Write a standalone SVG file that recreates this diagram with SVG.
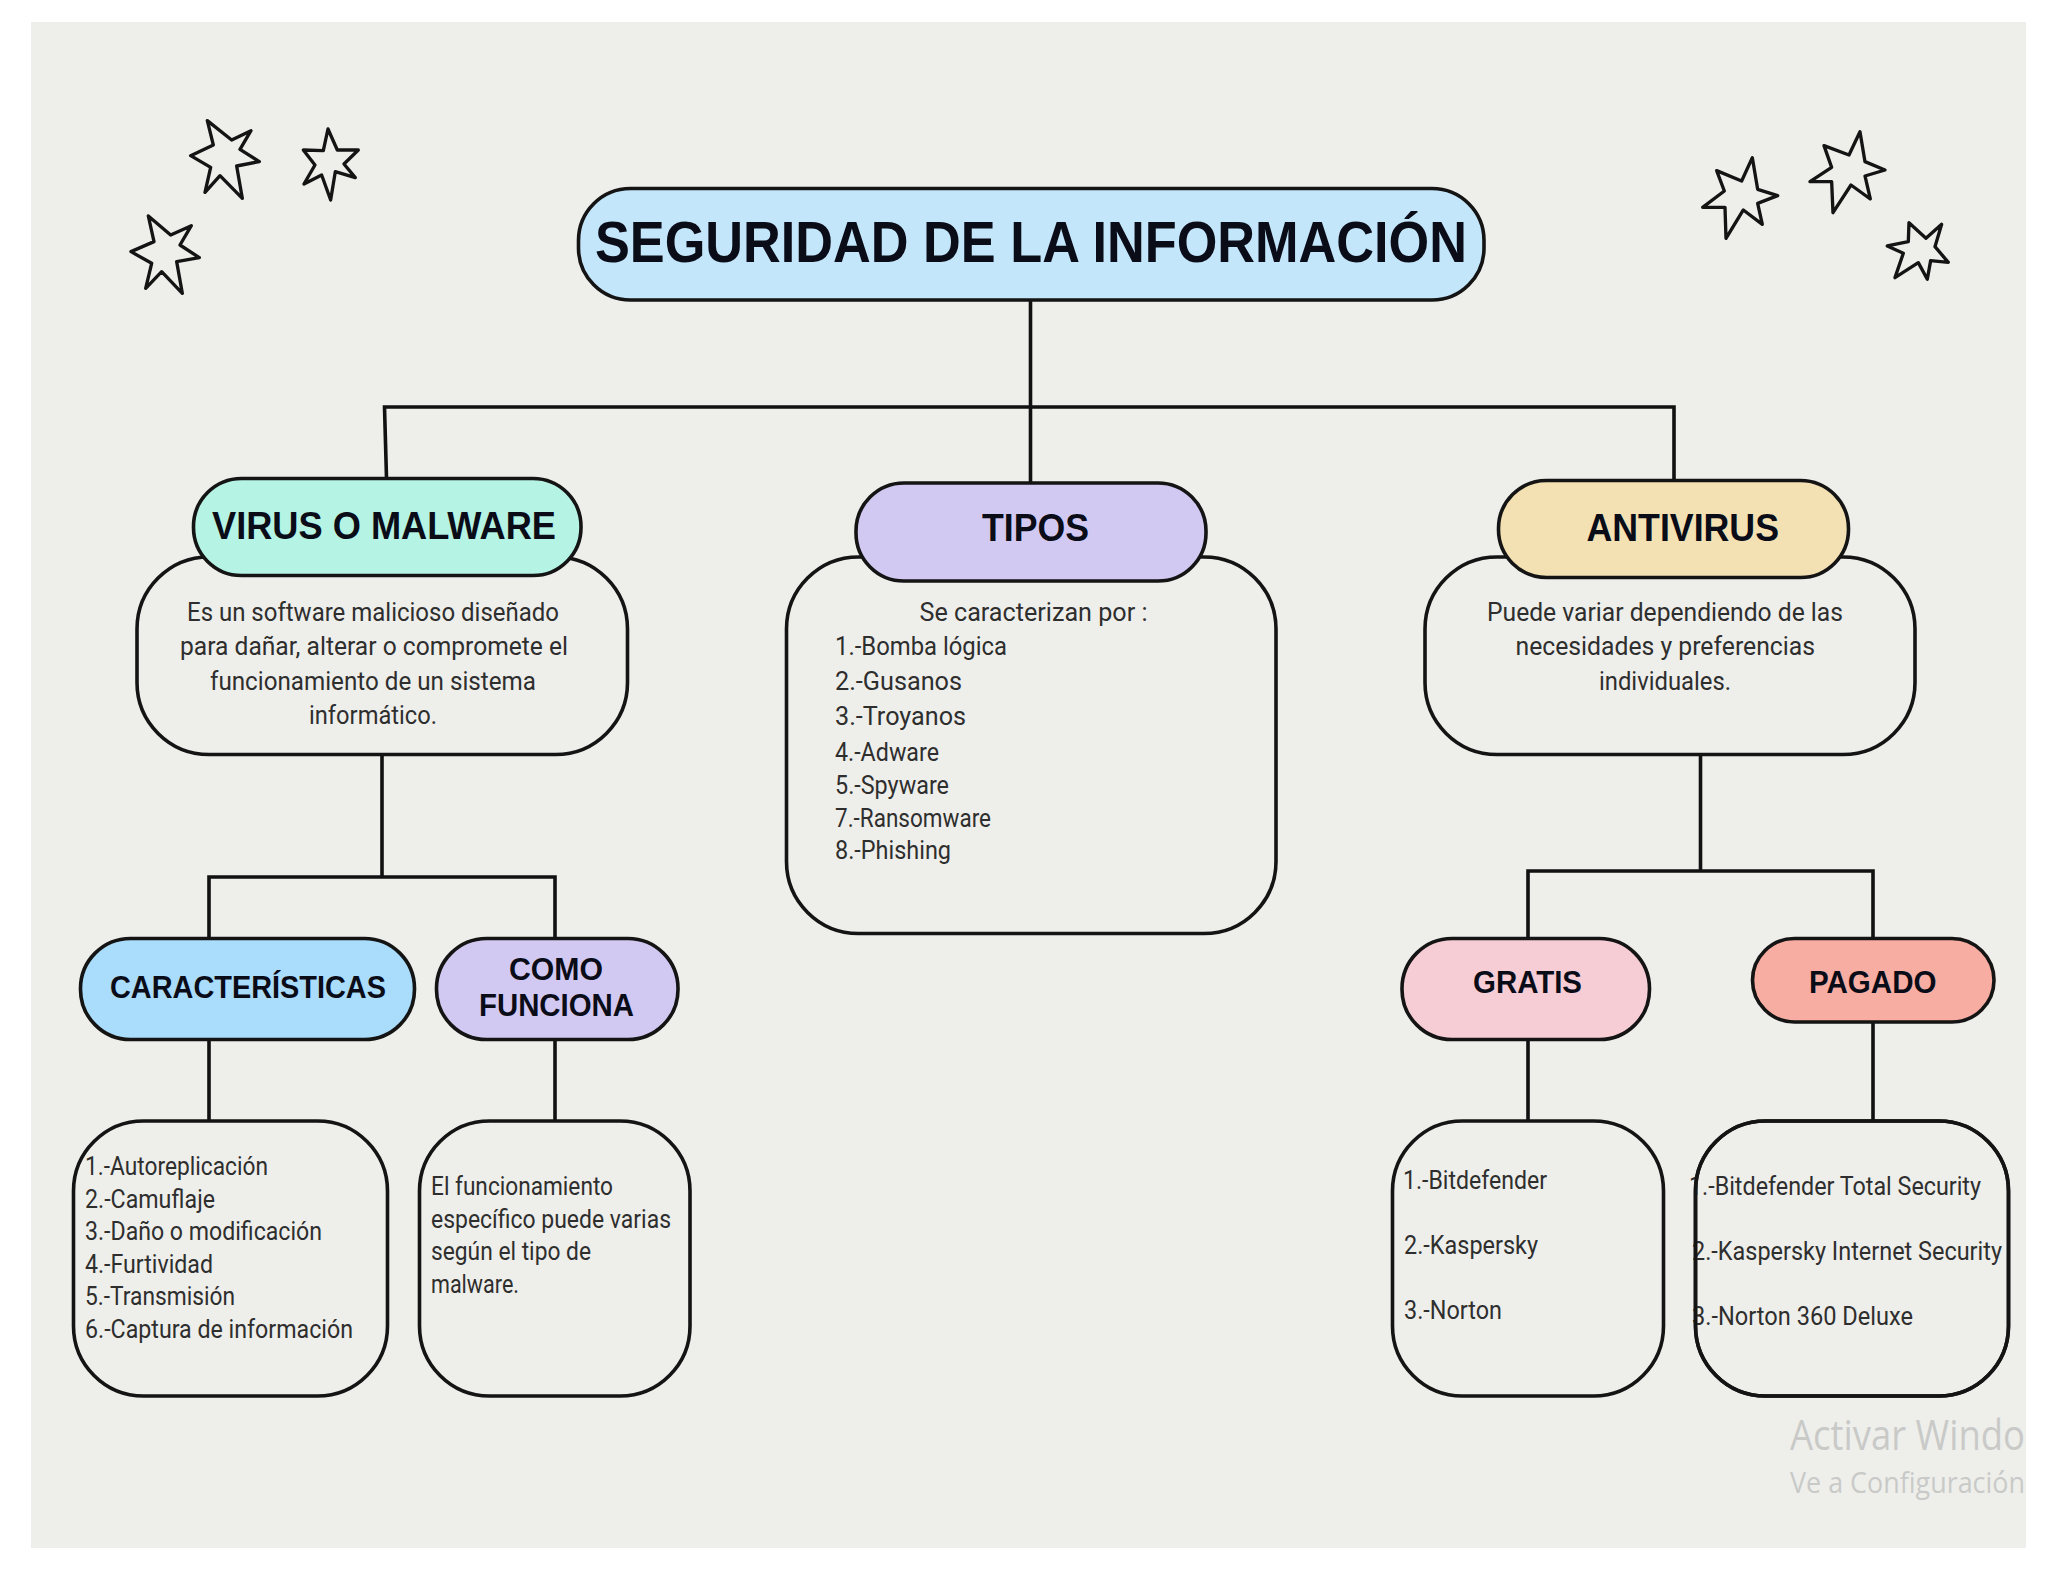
<svg xmlns="http://www.w3.org/2000/svg" width="2048" height="1582" viewBox="0 0 2048 1582">
<style>
.wire{fill:none;stroke:#111;stroke-width:3.6}
.head rect{stroke:#141414;stroke-width:3.6}
.box rect{fill:#eeefeb;stroke:#141414;stroke-width:3.6}
.h{font-family:"Liberation Sans",Arial,sans-serif;font-weight:700;fill:#0a0c18}
.b{font-family:Roboto,"Liberation Sans",sans-serif;font-size:26px;fill:#2e2e2e}
.star{fill:none;stroke:#141414;stroke-width:10;stroke-linejoin:round}
.wm{font-family:"Open Sans",sans-serif;fill:#c9cac8}
</style>
<rect width="2048" height="1582" fill="#ffffff"/>
<rect id="background" x="31" y="22" width="1995" height="1526" fill="#eeefeb"/>
<g id="stars">
<polygon class="star" transform="translate(100 90) scale(.3333)" points="322,92 395,150 453,122 420,178 478,215 410,228 427,325 360,257 315,307 332,232 272,197 340,165"/>
<polygon class="star" transform="translate(100 90) scale(.3333)" points="684,117 712,180 775,180 732,222 766,263 706,245 692,330 665,255 612,282 645,225 610,180 670,182"/>
<polygon class="star" transform="translate(100 90) scale(.3333)" points="145,378 212,435 274,407 240,465 298,503 230,515 247,610 185,545 137,595 155,520 93,485 162,455"/>
<polygon class="star" transform="translate(1690 110) scale(.3333)" points="187,143 203,238 263,257 203,280 217,343 160,300 108,385 105,292 38,292 103,243 80,182 155,213"/>
<polygon class="star" transform="translate(1690 110) scale(.3333)" points="510,65 525,155 585,180 525,198 541,267 483,225 429,308 425,215 360,215 425,172 402,107 477,135"/>
<polygon class="star" transform="translate(1690 110) scale(.3333)" points="755,343 735,410 775,457 722,452 712,508 685,458 615,503 640,430 592,408 655,395 657,338 708,385"/>
</g>
<g id="connectors">
<path class="wire" d="M1030.5 300V483"/>
<path class="wire" d="M386.5 478L384.500 407H1674V480"/>
<path class="wire" d="M382 754V877"/>
<path class="wire" d="M209 938V877H555V938"/>
<path class="wire" d="M209 1040V1121"/>
<path class="wire" d="M555 1040V1121"/>
<path class="wire" d="M1700.500 754V871"/>
<path class="wire" d="M1528 938V871H1873V938"/>
<path class="wire" d="M1528 1040V1121"/>
<path class="wire" d="M1873 1022V1121"/>
</g>
<g id="desc-virus" class="box">
<rect x="137" y="557" width="490.500" height="197.500" rx="72"/>
<text class="b" x="187" y="621" textLength="372" lengthAdjust="spacingAndGlyphs">Es un software malicioso diseñado</text>
<text class="b" x="180" y="655" textLength="388" lengthAdjust="spacingAndGlyphs">para dañar, alterar o compromete el</text>
<text class="b" x="210" y="690" textLength="326" lengthAdjust="spacingAndGlyphs">funcionamiento de un sistema</text>
<text class="b" x="309" y="724" textLength="128" lengthAdjust="spacingAndGlyphs">informático.</text>
</g>
<g id="desc-tipos" class="box">
<rect x="786.500" y="557" width="489.500" height="376.500" rx="72"/>
<text class="b" x="919.500" y="621" textLength="228" lengthAdjust="spacingAndGlyphs">Se caracterizan por :</text>
<text class="b" x="835" y="655" textLength="172" lengthAdjust="spacingAndGlyphs">1.-Bomba lógica</text>
<text class="b" x="835" y="690" textLength="127" lengthAdjust="spacingAndGlyphs">2.-Gusanos</text>
<text class="b" x="835" y="724.500" textLength="131" lengthAdjust="spacingAndGlyphs">3.-Troyanos</text>
<text class="b" x="835" y="761" textLength="104" lengthAdjust="spacingAndGlyphs">4.-Adware</text>
<text class="b" x="835" y="794" textLength="114" lengthAdjust="spacingAndGlyphs">5.-Spyware</text>
<text class="b" x="835" y="826.500" textLength="156" lengthAdjust="spacingAndGlyphs">7.-Ransomware</text>
<text class="b" x="835" y="859" textLength="116" lengthAdjust="spacingAndGlyphs">8.-Phishing</text>
</g>
<g id="desc-antivirus" class="box">
<rect x="1425" y="557" width="490" height="197.500" rx="72"/>
<text class="b" x="1487" y="621" textLength="356" lengthAdjust="spacingAndGlyphs">Puede variar dependiendo de las</text>
<text class="b" x="1515.500" y="655" textLength="299.500" lengthAdjust="spacingAndGlyphs">necesidades y preferencias</text>
<text class="b" x="1599" y="690" textLength="132" lengthAdjust="spacingAndGlyphs">individuales.</text>
</g>
<g id="node-title" class="head">
<rect x="578.500" y="188.500" width="905.500" height="111.500" rx="52" fill="#c3e6fb"/>
<text class="h" x="595" y="262" font-size="58" textLength="872" lengthAdjust="spacingAndGlyphs">SEGURIDAD DE LA INFORMACIÓN</text>
</g>
<g id="node-virus" class="head">
<rect x="193.500" y="478.500" width="387.500" height="97" rx="48" fill="#b5f4e4"/>
<text class="h" x="212" y="539" font-size="38" textLength="344" lengthAdjust="spacingAndGlyphs">VIRUS O MALWARE</text>
</g>
<g id="node-tipos" class="head">
<rect x="856" y="483" width="350" height="98" rx="48" fill="#d2c9f3"/>
<text class="h" x="982" y="541" font-size="38" textLength="107" lengthAdjust="spacingAndGlyphs">TIPOS</text>
</g>
<g id="node-antivirus" class="head">
<rect x="1498.500" y="480.500" width="350" height="97" rx="48" fill="#f3e1b3"/>
<text class="h" x="1586.500" y="541" font-size="38" textLength="192.500" lengthAdjust="spacingAndGlyphs">ANTIVIRUS</text>
</g>
<g id="node-caracteristicas" class="head">
<rect x="80.500" y="938.500" width="334" height="101" rx="50" fill="#aadcfb"/>
<text class="h" x="110" y="997.500" font-size="31" textLength="276" lengthAdjust="spacingAndGlyphs">CARACTERÍSTICAS</text>
</g>
<g id="node-como" class="head">
<rect x="436.500" y="938.500" width="241.500" height="101" rx="50" fill="#d2c9f3"/>
<text class="h" x="509" y="979.500" font-size="32" textLength="94" lengthAdjust="spacingAndGlyphs">COMO</text>
<text class="h" x="479" y="1016" font-size="32" textLength="155" lengthAdjust="spacingAndGlyphs">FUNCIONA</text>
</g>
<g id="node-gratis" class="head">
<rect x="1402" y="938.500" width="247.500" height="101" rx="50" fill="#f6cdd5"/>
<text class="h" x="1473" y="992.500" font-size="31" textLength="109" lengthAdjust="spacingAndGlyphs">GRATIS</text>
</g>
<g id="node-pagado" class="head">
<rect x="1752.500" y="938.500" width="241.500" height="83.500" rx="42" fill="#f8ada3"/>
<text class="h" x="1809" y="992.500" font-size="31" textLength="127.500" lengthAdjust="spacingAndGlyphs">PAGADO</text>
</g>
<g id="desc-caracteristicas" class="box">
<rect x="73.500" y="1121" width="314" height="275" rx="70"/>
<text class="b" x="85" y="1175" textLength="183" lengthAdjust="spacingAndGlyphs">1.-Autoreplicación</text>
<text class="b" x="85" y="1207.500" textLength="130" lengthAdjust="spacingAndGlyphs">2.-Camuflaje</text>
<text class="b" x="85" y="1240" textLength="237" lengthAdjust="spacingAndGlyphs">3.-Daño o modificación</text>
<text class="b" x="85" y="1272.500" textLength="128" lengthAdjust="spacingAndGlyphs">4.-Furtividad</text>
<text class="b" x="85" y="1305" textLength="150" lengthAdjust="spacingAndGlyphs">5.-Transmisión</text>
<text class="b" x="85" y="1338" textLength="268" lengthAdjust="spacingAndGlyphs">6.-Captura de información</text>
</g>
<g id="desc-como" class="box">
<rect x="419.500" y="1121" width="270.500" height="275" rx="70"/>
<text class="b" x="431" y="1195" textLength="182" lengthAdjust="spacingAndGlyphs">El funcionamiento</text>
<text class="b" x="431" y="1228" textLength="240" lengthAdjust="spacingAndGlyphs">específico puede varias</text>
<text class="b" x="431" y="1260" textLength="160" lengthAdjust="spacingAndGlyphs">según el tipo de</text>
<text class="b" x="431" y="1293" textLength="88" lengthAdjust="spacingAndGlyphs">malware.</text>
</g>
<g id="desc-gratis" class="box">
<rect x="1392.500" y="1121" width="271" height="275" rx="70"/>
<text class="b" x="1403" y="1188.500" textLength="144" lengthAdjust="spacingAndGlyphs">1.-Bitdefender</text>
<text class="b" x="1404" y="1254" textLength="134" lengthAdjust="spacingAndGlyphs">2.-Kaspersky</text>
<text class="b" x="1404" y="1319" textLength="98" lengthAdjust="spacingAndGlyphs">3.-Norton</text>
</g>
<g id="desc-pagado" class="box">
<rect x="1695.500" y="1121" width="313" height="275" rx="70"/>
<text class="b" x="1689" y="1195" textLength="292" lengthAdjust="spacingAndGlyphs">1.-Bitdefender Total Security</text>
<text class="b" x="1692" y="1260" textLength="310" lengthAdjust="spacingAndGlyphs">2.-Kaspersky Internet Security</text>
<text class="b" x="1692" y="1325" textLength="221" lengthAdjust="spacingAndGlyphs">3.-Norton 360 Deluxe</text>
<rect x="1695.500" y="1121" width="313" height="275" rx="70" style="fill:none"/>
</g>
<g id="watermark">
<text class="wm" x="1790" y="1450" font-size="42" textLength="235" lengthAdjust="spacingAndGlyphs">Activar Windo</text>
<text class="wm" x="1790" y="1493" font-size="30" textLength="235" lengthAdjust="spacingAndGlyphs">Ve a Configuración</text>
</g>
</svg>
